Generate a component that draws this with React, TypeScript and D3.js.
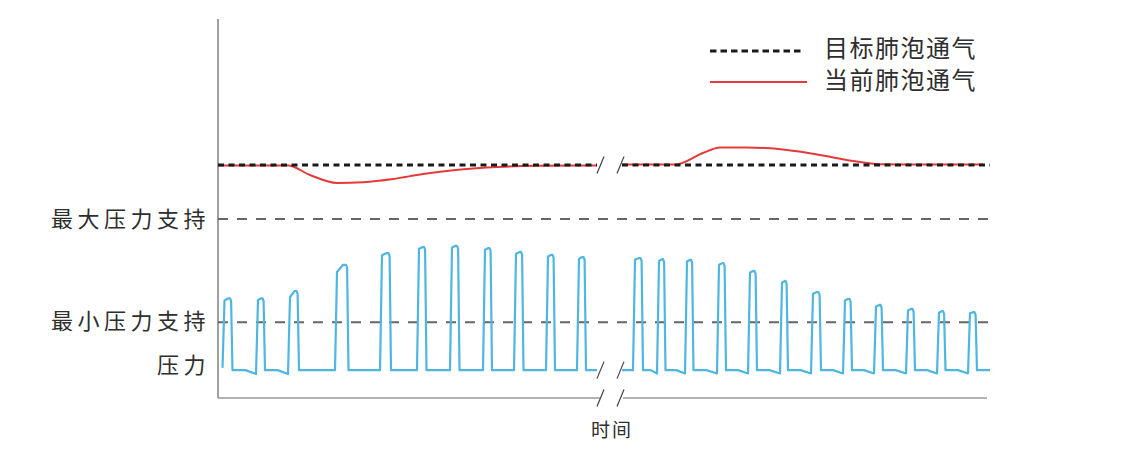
import * as d3 from "d3";

// time axis is broken between the two segments
const leftSeg = [0, 37.9];
const rightSeg = [40.4, 77.2];
const axisSegs = [
  [0, 38.2],
  [40.5, 76.9],
];

const basePressure = 5.0;
const minSupport = 13.6;
const maxSupport = 32.1;
const targetVent = 6.0;

// breaths, left part
const leftStart = [0.45, 3.8, 7.0, 11.7, 16.2, 19.9, 23.2, 26.5, 29.6, 32.8, 35.9];
const leftDur = [1.0, 0.9, 1.1, 1.35, 1.1, 0.95, 0.95, 0.9, 0.95, 0.9, 0.9];
const leftPlateau = [17.5, 17.6, 18.1, 22.6, 25.6, 26.8, 27.0, 26.6, 25.9, 25.4, 25.0];
const leftPeak = [17.9, 17.9, 19.2, 23.9, 26.0, 27.1, 27.3, 26.9, 26.2, 25.7, 25.3];
const leftExpEnd = [4.3, 4.3, 5.0, 5.0, 5.0, 5.0, 5.0, 5.0, 5.0, 5.0, 5.0];

// breaths, right part
const rightStart = [41.5, 43.9, 46.7, 49.9, 53.0, 56.2, 59.3, 62.5, 65.6, 68.8, 71.9, 75.0];
const rightDur = [1.0, 0.85, 0.85, 0.9, 0.9, 0.8, 1.0, 0.9, 0.9, 0.9, 0.85, 0.9];
const rightPlateau = [24.8, 24.6, 24.5, 23.9, 22.5, 20.7, 18.7, 17.5, 16.4, 15.7, 15.3, 15.2];
const rightPeak = [25.1, 24.9, 24.8, 24.2, 22.8, 21.0, 19.0, 17.8, 16.7, 16.0, 15.6, 15.4];
const rightExpEnd = [4.4, 4.4, 4.4, 4.4, 4.4, 4.4, 4.4, 4.4, 4.4, 4.4, 4.4, 5.0];

// alveolar ventilation (red)
const ventLeftT = [0, 7.0, 9.2, 11.9, 14.5, 17.5, 20.5, 24.0, 28.0, 32.0, 37.9];
const ventLeftV = [5.98, 5.98, 5.5, 5.1, 5.14, 5.3, 5.55, 5.76, 5.9, 5.96, 5.98];
const ventRightT = [40.4, 45.7, 48.5, 50.2, 52.9, 56.9, 60.2, 63.5, 66.2, 70.0, 76.5];
const ventRightV = [6.02, 6.02, 6.6, 6.88, 6.88, 6.75, 6.5, 6.2, 6.04, 6.02, 6.02];

const legendLabels = ["目标肺泡通气", "当前肺泡通气"];
const yLabels = ["最大压力支持", "最小压力支持", "压力"];
const xLabel = "时间";

const W = 1140;
const H = 458;
const FONT = "'Noto Sans CJK SC', 'Noto Sans', sans-serif";

const x = d3.scaleLinear().domain([0, 77]).range([218, 988]);
const yP = d3.scaleLinear().domain([0, 68]).range([398, 19]);
const yV = d3.scaleLinear().domain([4, 8]).range([205, 125]);

function breathPoints(
  lead: [number, number][],
  starts: number[],
  durs: number[],
  plat: number[],
  peaks: number[],
  ends: number[],
  tEnd: number,
  startLevel: number
) {
  const pts: [number, number][] = [...lead];
  let level = startLevel;
  starts.forEach((t0, i) => {
    const d = durs[i];
    pts.push([t0, level]);
    pts.push([t0 + 0.2, plat[i]]);
    pts.push([t0 + d * 0.6, peaks[i]]);
    pts.push([t0 + d - 0.25, peaks[i]]);
    pts.push([t0 + d - 0.14, peaks[i] - 0.5]);
    pts.push([t0 + d, basePressure]);
    const next = i < starts.length - 1 ? starts[i + 1] : tEnd;
    if (ends[i] !== basePressure) {
      pts.push([t0 + d + (next - t0 - d) * 0.55, basePressure]);
    }
    pts.push([next, ends[i]]);
    level = ends[i];
  });
  return pts;
}

const leftPts = breathPoints([], leftStart, leftDur, leftPlateau, leftPeak, leftExpEnd, leftSeg[1], 5.4);
const rightPts = breathPoints(
  [[rightSeg[0], basePressure]],
  rightStart,
  rightDur,
  rightPlateau,
  rightPeak,
  rightExpEnd,
  rightSeg[1],
  basePressure
);

const pLine = d3
  .line<[number, number]>()
  .x((d) => x(d[0]))
  .y((d) => yP(d[1]));

const vLine = d3
  .line<[number, number]>()
  .x((d) => x(d[0]))
  .y((d) => yV(d[1]))
  .curve(d3.curveMonotoneX);

const ventLeft = ventLeftT.map((t, i) => [t, ventLeftV[i]] as [number, number]);
const ventRight = ventRightT.map((t, i) => [t, ventRightV[i]] as [number, number]);

// break marks "/ /"
const Breaks = ({ yc }: { yc: number }) => (
  <g stroke="#444" strokeWidth={1.2}>
    <line x1={597} y1={yc + 8.5} x2={604} y2={yc - 8.5} />
    <line x1={617} y1={yc + 8.5} x2={624} y2={yc - 8.5} />
  </g>
);

export default function App() {
  const textStyle = { fontFamily: FONT, fill: "#2e2e2e" };
  return (
    <div style={{ position: "absolute", left: 0, top: 0 }}>
      <svg width={W} height={H} viewBox={`0 0 ${W} ${H}`} style={{ display: "block", background: "#fff" }}>
        {/* axes */}
        <line x1={x(0)} y1={19} x2={x(0)} y2={398} stroke="#888" strokeWidth={1.6} />
        {axisSegs.map((s, i) => (
          <line key={i} x1={x(s[0])} y1={398} x2={x(s[1])} y2={398} stroke="#999" strokeWidth={1.6} />
        ))}

        {/* support limits */}
        {[maxSupport, minSupport].map((p, i) => (
          <line
            key={i}
            x1={x(0)}
            x2={x(77)}
            y1={yP(p)}
            y2={yP(p)}
            stroke="#666"
            strokeWidth={2}
            strokeDasharray="10,9"
          />
        ))}

        {/* pressure */}
        {[leftPts, rightPts].map((pts, i) => (
          <path key={i} d={pLine(pts) || ""} fill="none" stroke="#4fb6e2" strokeWidth={2.2} strokeLinejoin="round" />
        ))}

        {/* ventilation */}
        {[ventLeft, ventRight].map((pts, i) => (
          <path key={i} d={vLine(pts) || ""} fill="none" stroke="#e63a3a" strokeWidth={2} />
        ))}
        {[leftSeg, rightSeg].map((s, i) => (
          <line
            key={i}
            x1={x(s[0])}
            x2={x(s[1])}
            y1={yV(targetVent)}
            y2={yV(targetVent)}
            stroke="#1a1a1a"
            strokeWidth={3}
            strokeDasharray="6,4.5"
          />
        ))}

        <Breaks yc={yV(targetVent)} />
        <Breaks yc={yP(basePressure)} />
        <Breaks yc={398} />

        {/* y labels */}
        <g style={textStyle} fontSize={22} letterSpacing={4.5} textAnchor="end" dominantBaseline="central">
          <text x={210} y={yP(maxSupport) - 2}>{yLabels[0]}</text>
          <text x={210} y={yP(minSupport) - 3}>{yLabels[1]}</text>
          <text x={210} y={363}>{yLabels[2]}</text>
        </g>
        <text x={612} y={428} style={textStyle} fontSize={19} letterSpacing={2} textAnchor="middle" dominantBaseline="central">
          {xLabel}
        </text>

        {/* legend */}
        <line x1={710} x2={803} y1={51} y2={51} stroke="#1a1a1a" strokeWidth={3} strokeDasharray="6.5,4" />
        <line x1={710} x2={807} y1={82} y2={82} stroke="#e63a3a" strokeWidth={2} />
        <g style={textStyle} fontSize={24} letterSpacing={1.5} dominantBaseline="central">
          <text x={824} y={46}>{legendLabels[0]}</text>
          <text x={824} y={78}>{legendLabels[1]}</text>
        </g>
      </svg>
    </div>
  );
}
